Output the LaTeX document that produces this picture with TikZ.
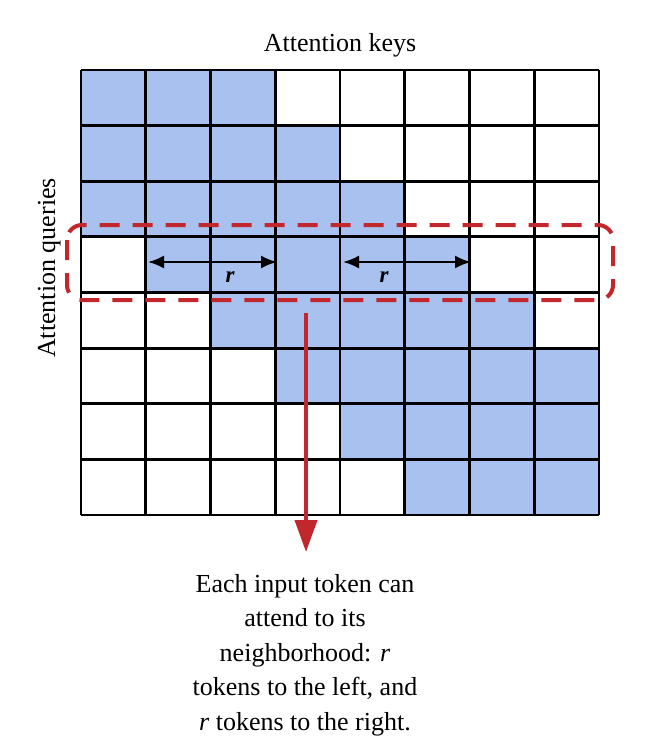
\documentclass[tikz,border=0pt]{standalone}
\usepackage{fontspec}
\setmainfont{Liberation Serif}
\usetikzlibrary{arrows.meta}
\definecolor{cellblue}{HTML}{A9C1EE}
\definecolor{bandred}{HTML}{C1272D}
\tikzset{
  gridline/.style={line width=2.8pt, black},
  spanarrow/.style={line width=2.2pt, {Latex[length=16pt,width=13pt]}-{Latex[length=16pt,width=13pt]}},
  rlabel/.style={font=\fontsize{23}{26}\selectfont\bfseries\itshape, inner sep=0pt},
  band/.style={bandred, line width=4pt, dash pattern=on 20pt off 13pt, rounded corners=15pt},
  downarrow/.style={bandred, line width=4pt, -{Triangle[length=32pt,width=22pt]}},
  caption/.style={font=\fontsize{26}{34.5}\selectfont, align=center, inner sep=0pt},
  axislabel/.style={font=\fontsize{26}{30}\selectfont, anchor=base}
}
\begin{document}
\begin{tikzpicture}[x=1pt,y=-1pt]
\useasboundingbox (0,0) rectangle (650,752);
\def\cw{64.75}
\def\ch{55.625}
\foreach \r/\a/\b in {0/0/2,1/0/3,2/0/4,3/1/5,4/2/6,5/3/7,6/4/7,7/5/7} {
  \fill[cellblue] (81+\a*\cw, 70+\r*\ch) rectangle (81+\b*\cw+\cw, 70+\r*\ch+\ch);
}
\foreach \i in {0,...,8} {
  \draw[gridline] (81+\i*\cw,70) -- (81+\i*\cw,515);
  \draw[gridline] (81,70+\i*\ch) -- (599,70+\i*\ch);
}
\node[axislabel] (keys) at (340,52) {Attention keys};
\node[axislabel, rotate=90] (queries) at (55,268) {Attention queries};
\coordinate (l1) at (148,262);
\coordinate (l2) at (277,262);
\coordinate (r1) at (343,262);
\coordinate (r2) at (471,262);
\draw[spanarrow] (l1) -- (l2);
\draw[spanarrow] (r1) -- (r2);
\node[rlabel] (ra) at (230,277) {r};
\node[rlabel] (rb) at (384,277) {r};
\draw[band] (67,225) rectangle (613,300);
\node[caption, anchor=north] (cap) at (305,574) {Each input token can\\attend to its\\neighborhood: \textit{r}\\tokens to the left, and\\\textit{r} tokens to the right.};
\coordinate (astart) at (306,313);
\coordinate (aend) at (306,552);
\draw[downarrow] (astart) -- (aend);
\end{tikzpicture}
\end{document}
